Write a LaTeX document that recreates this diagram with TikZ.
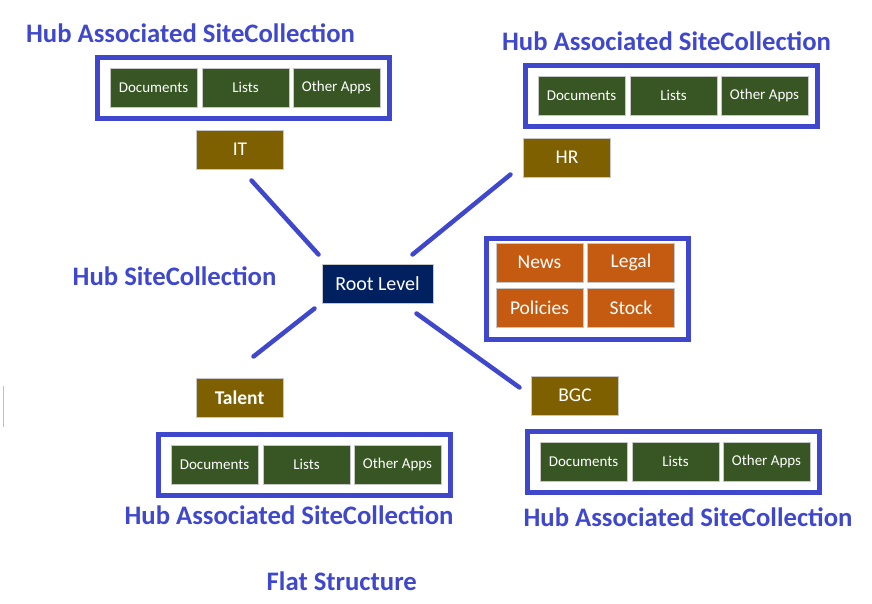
\documentclass[tikz,border=0pt]{standalone}
\usepackage{fontspec}
\setmainfont{Carlito}
\definecolor{appgreen}{RGB}{56,86,35}
\definecolor{sitebrown}{RGB}{127,96,0}
\definecolor{topicorange}{RGB}{197,90,17}
\definecolor{rootnavy}{RGB}{0,32,96}
\definecolor{hubblue}{RGB}{63,72,204}
\begin{document}
\begin{tikzpicture}[x=1pt,y=-1pt,
  basebox/.style={rectangle, inner sep=0pt, text=white, draw=black!22, line width=0.8pt},
  app/.style={basebox, fill=appgreen, minimum width=87pt, minimum height=39pt, font=\fontsize{15}{17}\selectfont},
  site/.style={basebox, fill=sitebrown, minimum width=87pt, minimum height=39pt, font=\fontsize{19.5}{22}\selectfont},
  topic/.style={basebox, fill=topicorange, minimum width=87pt, minimum height=39pt, font=\fontsize{19.5}{22}\selectfont},
  rootbox/.style={basebox, fill=rootnavy, minimum width=111pt, minimum height=39pt, font=\fontsize{20}{22}\selectfont},
  hubframe/.style={rectangle, draw=hubblue, line width=5pt, inner sep=0pt, minimum width=292pt, minimum height=61pt},
  title/.style={text=hubblue, font=\bfseries\fontsize{26.7}{30}\selectfont, inner sep=0pt, anchor=base},
  conn/.style={draw=hubblue, line width=4.5pt, line cap=round}]
\useasboundingbox (0,0) rectangle (872,603);

% top-left hub
\node[title] (t1) at (190.5,42.5) {Hub Associated SiteCollection};
\node[hubframe] (f1) at (243.5,88) {};
\node[app] (d1) at (153.5,87.5) {Documents};
\node[app] (l1) at (245.5,87.5) {Lists};
\node[app] (o1) at (336.5,87.5) {Other Apps};
\node[site] (it) at (240,149.5) {IT};

% top-right hub
\node[title] (t2) at (666.5,50.5) {Hub Associated SiteCollection};
\node[hubframe] (f2) at (671.5,96) {};
\node[app] (d2) at (581.5,95.5) {Documents};
\node[app] (l2) at (673.5,95.5) {Lists};
\node[app] (o2) at (764.5,95.5) {Other Apps};
\node[site] (hr) at (567,157.5) {HR};

% centre
\node[title] (hsc) at (174.5,285.5) {Hub SiteCollection};
\node[rootbox] (root) at (377.5,283.5) {Root Level};

% topics
\node[rectangle, draw=hubblue, line width=5pt, inner sep=0pt, minimum width=202pt, minimum height=101pt] (f5) at (587.5,289) {};
\node[topic] (news) at (539.5,262.5) {News};
\node[topic] (legal) at (631,262.5) {Legal};
\node[topic] (pol) at (539.5,307.5) {Policies};
\node[topic] (stock) at (631,307.5) {Stock};

% bottom-left hub
\node[site, font=\bfseries\fontsize{19.5}{22}\selectfont] (talent) at (239.5,398) {Talent};
\node[hubframe] (f3) at (304.5,465) {};
\node[app] (d3) at (214.5,464.5) {Documents};
\node[app] (l3) at (306.5,464.5) {Lists};
\node[app] (o3) at (397.5,464.5) {Other Apps};
\node[title] (t3) at (289,524.5) {Hub Associated SiteCollection};

% bottom-right hub
\node[site] (bgc) at (575,395.5) {BGC};
\node[hubframe] (f4) at (673.5,462) {};
\node[app] (d4) at (583.5,461.5) {Documents};
\node[app] (l4) at (675.5,461.5) {Lists};
\node[app] (o4) at (766.5,461.5) {Other Apps};
\node[title] (t4) at (688,526.5) {Hub Associated SiteCollection};

\node[title] (flat) at (341.8,590) {Flat Structure};

% connectors
\coordinate (c1a) at (251.5,180.5);
\coordinate (c1b) at (318.5,254.5);
\coordinate (c2a) at (412.5,254.5);
\coordinate (c2b) at (510.5,174.5);
\coordinate (c3a) at (253.5,356.5);
\coordinate (c3b) at (314.5,308.5);
\coordinate (c4a) at (416.5,313.5);
\coordinate (c4b) at (519.5,387.5);
\draw[conn] (c1a) -- (c1b);
\draw[conn] (c2a) -- (c2b);
\draw[conn] (c3a) -- (c3b);
\draw[conn] (c4a) -- (c4b);

% stray mark at left edge
\coordinate (m1) at (3.3,386);
\coordinate (m2) at (3.3,427);
\draw[black!25, line width=1pt] (m1) -- (m2);
\end{tikzpicture}
\end{document}
